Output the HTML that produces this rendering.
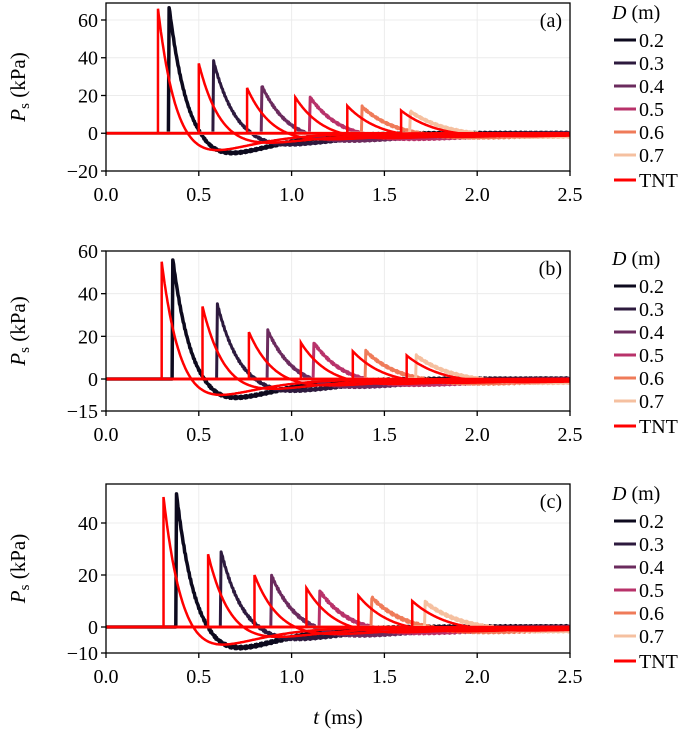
<!DOCTYPE html>
<html><head><meta charset="utf-8"><style>
body{margin:0;background:#fff}
svg{font-family:"Liberation Serif",serif}
</style></head><body>
<svg id="s" width="685" height="737" xmlns="http://www.w3.org/2000/svg"></svg>
<script>
const S=document.getElementById('s');
let h='';
const X0=106,X1=570;
const xs=t=>X0+(t/2.5)*(X1-X0);
const cols=['#0d0a1e','#2d1a3e','#6b2b5e','#b8326a','#ef7b59','#f5c0a0'];
const panels=[
 {top:3,bot:171,ymin:-20,ymax:69,yt:[60,40,20,0,-20],lab:'(a)',
  tnt:[[0.28,66],[0.50,37],[0.76,24],[1.02,19],[1.30,14.5],[1.59,12]],
  ex:[[0.34,67],[0.58,38],[0.84,25],[1.10,19],[1.38,14],[1.64,11.5]],leg:12},
 {top:251,bot:411,ymin:-15,ymax:60,yt:[60,40,20,0,-15],lab:'(b)',
  tnt:[[0.30,55],[0.52,34],[0.77,22],[1.05,17],[1.33,13],[1.62,11]],
  ex:[[0.36,56],[0.60,35],[0.87,23],[1.12,17],[1.40,13],[1.67,11]],leg:258},
 {top:484,bot:653,ymin:-10,ymax:55,yt:[40,20,0,-10],lab:'(c)',
  tnt:[[0.31,50],[0.55,28],[0.80,20],[1.08,15],[1.36,12],[1.65,10]],
  ex:[[0.38,51],[0.62,29],[0.89,20],[1.15,14],[1.43,11.5],[1.72,9.5]],leg:493}
];
function fr(t,ta,P,td,b){if(t<ta)return 0;const u=(t-ta)/td;return P*(1-u)*Math.exp(-b*u);}
panels.forEach(p=>{
 const ys=v=>p.bot-(v-p.ymin)/(p.ymax-p.ymin)*(p.bot-p.top);
 [0.5,1,1.5,2].forEach(t=>h+=`<line x1="${xs(t)}" y1="${p.top}" x2="${xs(t)}" y2="${p.bot}" stroke="#ececec" stroke-width="1"/>`);
 p.yt.forEach(v=>{if(v!==p.ymin)h+=`<line x1="${X0}" y1="${ys(v)}" x2="${X1}" y2="${ys(v)}" stroke="#ececec" stroke-width="1"/>`});
 h+=`<svg x="${X0}" y="${p.top}" width="${X1-X0}" height="${p.bot-p.top}" viewBox="${X0} ${p.top} ${X1-X0} ${p.bot-p.top}" overflow="hidden">`;
 p.ex.forEach((e,i)=>{
  const td=0.17+i*0.035;let d='';
  for(let t=0;t<=2.5;t+=0.004){let v=fr(t,e[0],e[1],td,1.0);if(v<0)v*=1.15;if(t>e[0])v+=Math.sin(t*900+i)*0.5;d+=(d?'L':'M')+xs(t).toFixed(1)+','+ys(v).toFixed(1);}
  h+=`<path d="${d}" fill="none" stroke="${cols[i]}" stroke-width="${i==0?3.5:3}" stroke-linejoin="round"/>`;
 });
 p.tnt.forEach((e,i)=>{
  const td=0.16+i*0.03;let d='M'+xs(0)+','+ys(0)+'L'+xs(e[0])+','+ys(0);
  for(let t=e[0];t<=2.5;t+=0.004){d+='L'+xs(t).toFixed(1)+','+ys(fr(t,e[0],e[1],td,1.0)).toFixed(1);}
  h+=`<path d="${d}" fill="none" stroke="#ff0000" stroke-width="2.5"/>`;
 });
 h+='</svg>';
 h+=`<rect x="${X0}" y="${p.top}" width="${X1-X0}" height="${p.bot-p.top}" fill="none" stroke="#000" stroke-width="1.3"/>`;
 p.yt.forEach(v=>{const y=ys(v);h+=`<line x1="${X0-5}" y1="${y}" x2="${X0}" y2="${y}" stroke="#000" stroke-width="1.3"/><text x="${X0-8}" y="${y+7}" text-anchor="end" font-size="20">${v<0?'−'+(-v):v}</text>`});
 [0,0.5,1,1.5,2,2.5].forEach(t=>{const x=xs(t);h+=`<line x1="${x}" y1="${p.bot}" x2="${x}" y2="${p.bot+5}" stroke="#000" stroke-width="1.3"/><text x="${x}" y="${p.bot+30}" text-anchor="middle" font-size="20">${t.toFixed(1)}</text>`});
 h+=`<text x="${X1-8}" y="${p.top+24}" text-anchor="end" font-size="20">${p.lab}</text>`;
 const cy=(p.top+p.bot)/2;
 h+=`<text transform="translate(25,${cy}) rotate(-90)" text-anchor="middle" font-size="21"><tspan font-style="italic">P</tspan><tspan font-size="15" dy="4">s</tspan><tspan dy="-4"> (kPa)</tspan></text>`;
 const L=p.leg;
 h+=`<text x="612" y="${L+7}" font-size="20"><tspan font-style="italic">D</tspan>  (m)</text>`;
 ['0.2','0.3','0.4','0.5','0.6','0.7'].forEach((s,i)=>{const y=L+28+i*23;h+=`<line x1="614" y1="${y}" x2="636" y2="${y}" stroke="${cols[i]}" stroke-width="3"/><text x="639" y="${y+7}" font-size="20">${s}</text>`});
 h+=`<line x1="614" y1="${L+168}" x2="636" y2="${L+168}" stroke="#ff0000" stroke-width="3"/><text x="639" y="${L+175}" font-size="20">TNT</text>`;
});
h+=`<text x="338" y="724" text-anchor="middle" font-size="21"><tspan font-style="italic">t</tspan> (ms)</text>`;
S.innerHTML=h;
</script>
</body></html>
